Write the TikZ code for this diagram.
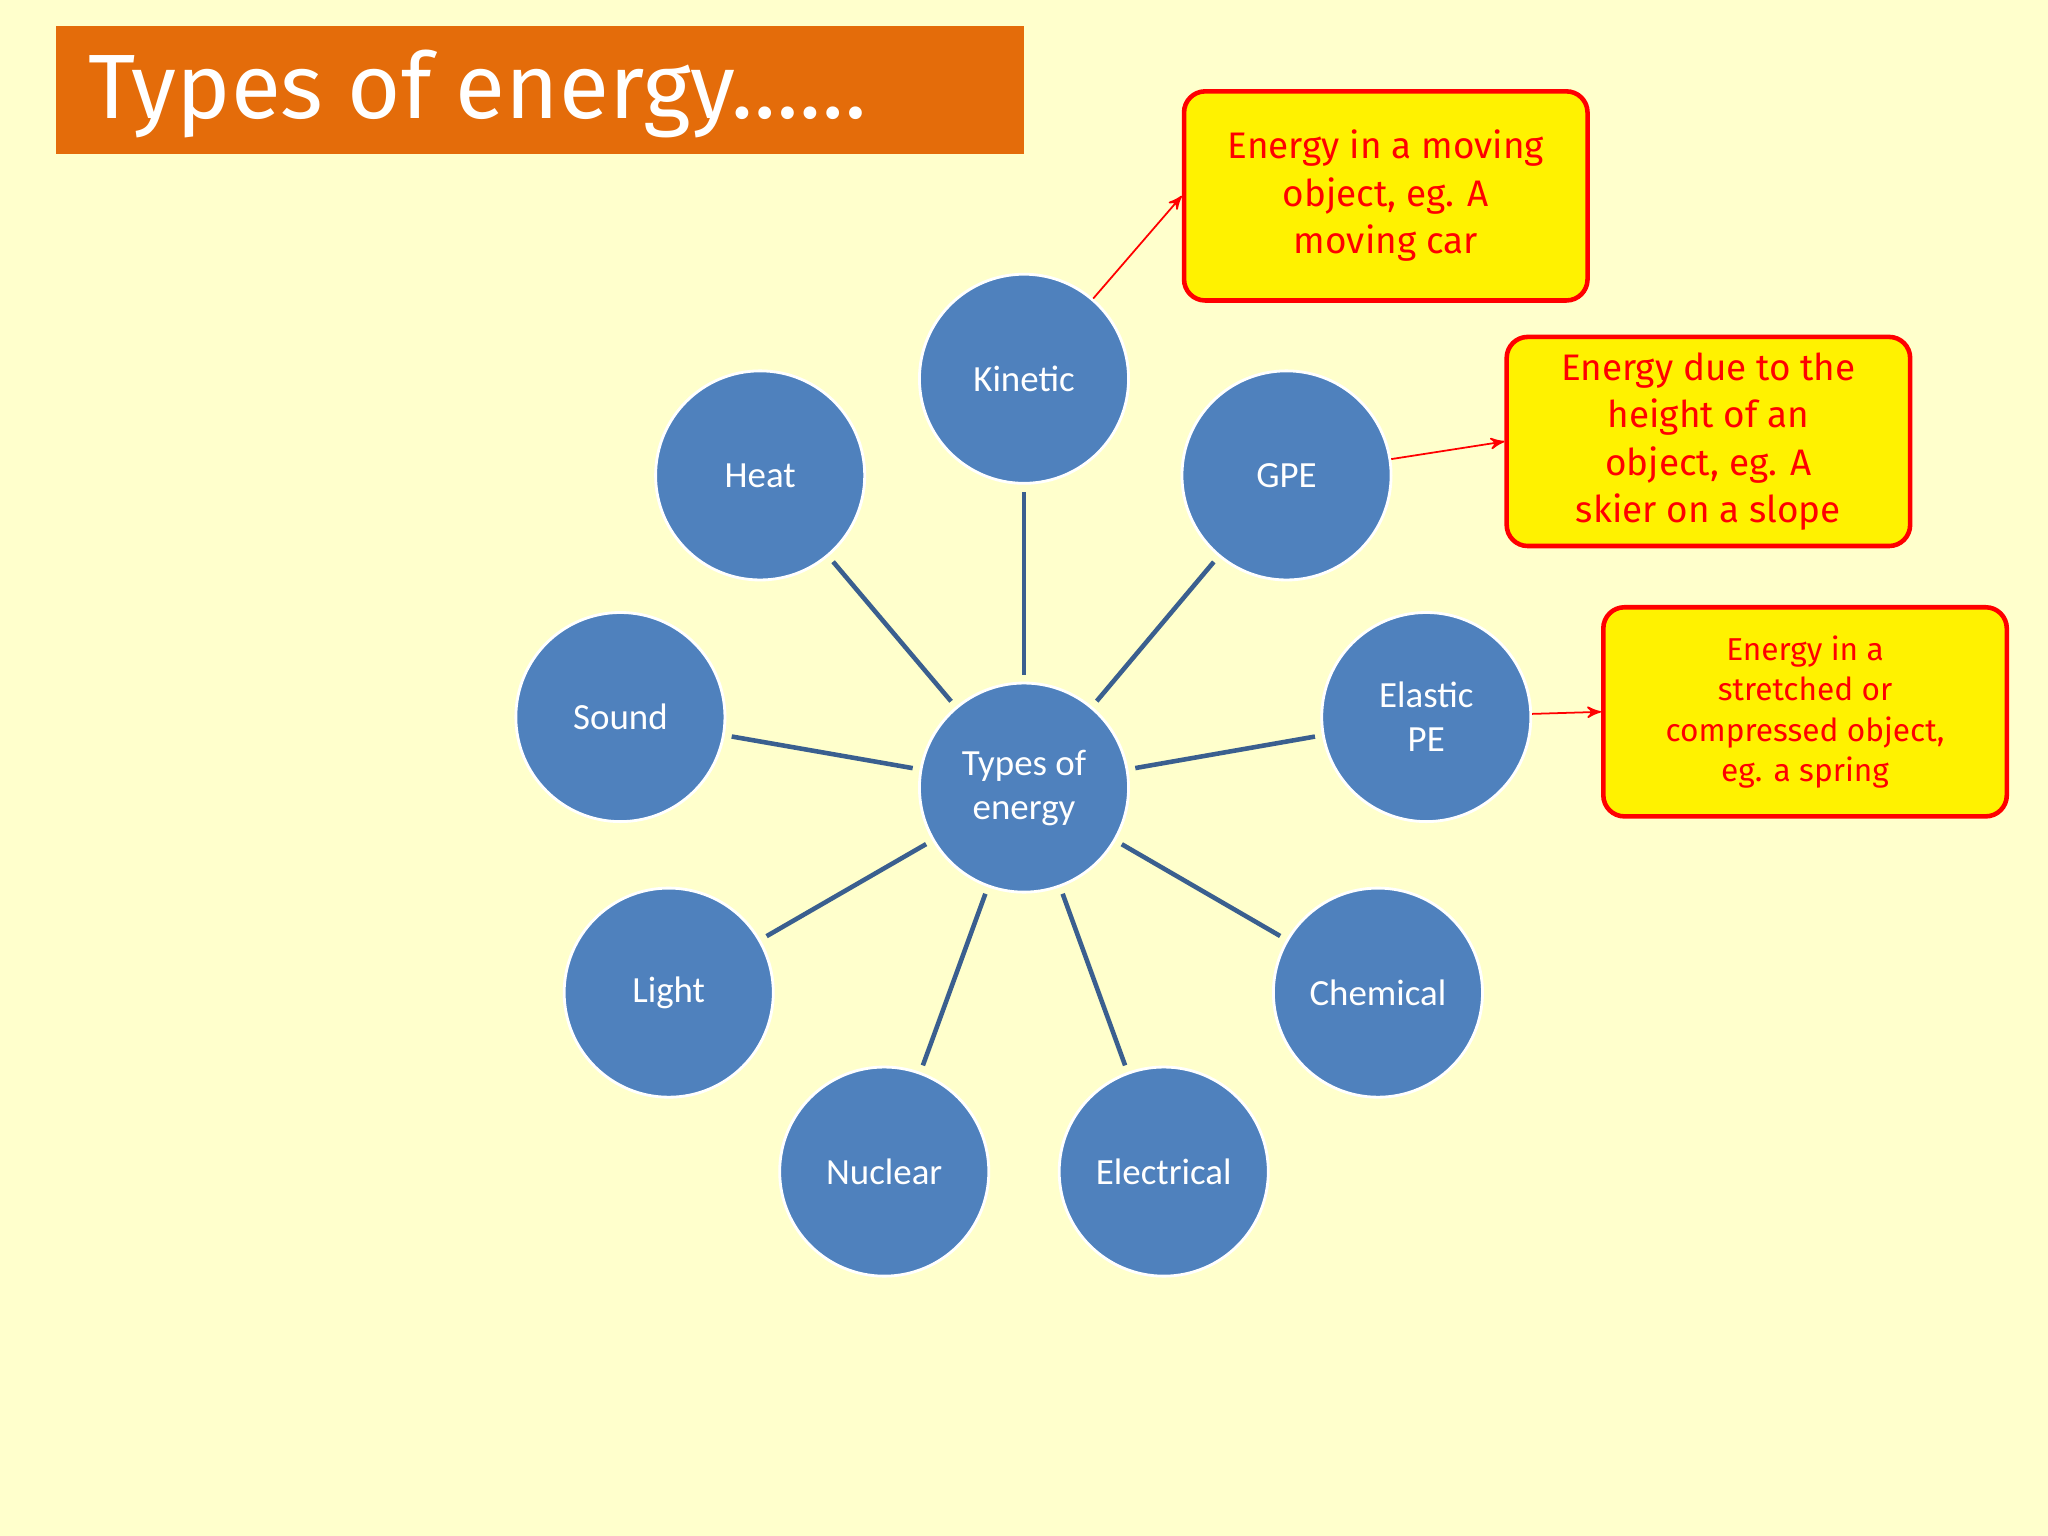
\documentclass[tikz,border=0pt]{standalone}
\usepackage{fontspec}
\setmainfont{Carlito}
\newfontfamily\notefont{Fira Sans}
\usetikzlibrary{arrows}
\definecolor{bg}{HTML}{FFFFCC}
\definecolor{ballblue}{HTML}{4F81BD}
\definecolor{spokeblue}{HTML}{3A5F8F}
\definecolor{banner}{HTML}{E46C0A}
\tikzstyle{ball}  = [circle, minimum size=59.5pt, inner sep=0pt, fill=ballblue, draw=white, line width=0.8pt, text=white, align=center, font=\fontsize{10.5}{12.5}\selectfont]
\tikzstyle{note}  = [rounded corners=6pt, fill=yellow, draw=red, line width=1.3pt, text=red, align=center, minimum width=114.8pt, minimum height=59.5pt, font=\notefont\fontsize{10.5}{13.5}\selectfont]
\tikzstyle{spoke} = [draw=spokeblue, line width=1.3pt, shorten <=2pt, shorten >=2pt]
\tikzstyle{arrow} = [red, ->, >=stealth', line width=0.5pt]
\begin{document}
\begin{tikzpicture}[x=0.01306cm, y=-0.01306cm]
      \fill [bg] (0,0) rectangle (1568,1176);
      \useasboundingbox (0,0) rectangle (1568,1176);

      \fill [banner] (43,20) rectangle (784,118);
      \node (title) [anchor=west, text=white, font=\notefont\fontsize{26}{30}\selectfont] at (58,72) {Types of energy……};

      \node (hub)   [ball] at (784,603)  {Types of\\energy};
      \node (kin)   [ball] at (784,290)  {Kinetic};
      \node (heat)  [ball] at (582,364)  {Heat};
      \node (gpe)   [ball] at (985,364)  {GPE};
      \node (sound) [ball] at (475,549)  {Sound};
      \node (ela)   [ball] at (1092,549) {Elastic\\PE};
      \node (light) [ball] at (512,760)  {Light};
      \node (chem)  [ball] at (1055,760) {Chemical};
      \node (nuc)   [ball] at (677,897)  {Nuclear};
      \node (elec)  [ball] at (891,897)  {Electrical};

      \foreach \n in {kin, heat, gpe, sound, ela, light, chem, nuc, elec}
        \draw [spoke] (hub) -- (\n);

      \node (n1) [note] at (1061,150) {Energy in a moving\\object, eg. A\\moving car};
      \node (n2) [note] at (1308,338) {Energy due to the\\height of an\\object, eg. A\\skier on a slope};
      \node (n3) [note, font=\notefont\fontsize{9}{11.5}\selectfont] at (1382,545) {Energy in a\\stretched or\\compressed object,\\eg. a spring};

      \draw [arrow] (kin) -- (n1.west);
      \draw [arrow] (gpe) -- (n2.west);
      \draw [arrow] (ela) -- (n3.west);
\end{tikzpicture}
\end{document}
